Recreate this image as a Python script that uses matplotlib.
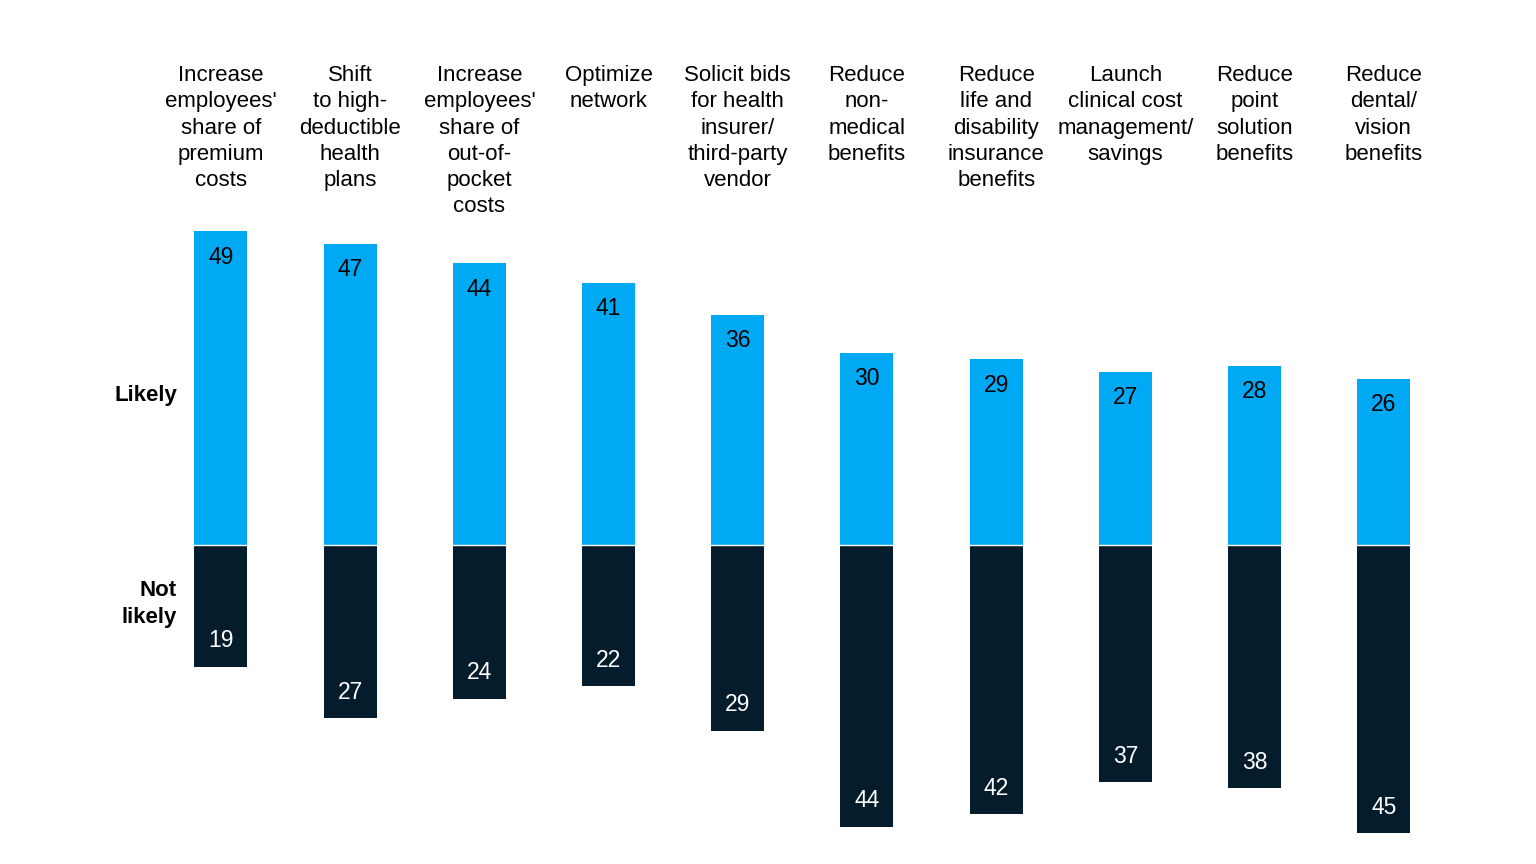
import numpy as np
import matplotlib.pyplot as plt

plt.rcParams['font.family'] = ['Liberation Sans', 'DejaVu Sans']

categories = [
    "Increase\nemployees'\nshare of\npremium\ncosts",
    "Shift\nto high-\ndeductible\nhealth\nplans",
    "Increase\nemployees'\nshare of\nout-of-\npocket\ncosts",
    "Optimize\nnetwork",
    "Solicit bids\nfor health\ninsurer/\nthird-party\nvendor",
    "Reduce\nnon-\nmedical\nbenefits",
    "Reduce\nlife and\ndisability\ninsurance\nbenefits",
    "Launch\nclinical cost\nmanagement/\nsavings",
    "Reduce\npoint\nsolution\nbenefits",
    "Reduce\ndental/\nvision\nbenefits",
]
likely = [49, 47, 44, 41, 36, 30, 29, 27, 28, 26]
not_likely = [19, 27, 24, 22, 29, 44, 42, 37, 38, 45]

blue = '#00A9F4'
navy = '#051C2C'

fig = plt.figure(figsize=(15.36, 8.64), dpi=100)
ax = fig.add_axes([0, 0, 1, 1])

x = np.arange(len(categories))
px = 129.2  # pixels per category
py = 6.4    # pixels per percentage point
ax.set_xlim(-221 / px, (1536 - 221) / px)
ax.set_ylim(-(864 - 545) / py, 545 / py)
ax.axis('off')

w = 53 / px
ax.bar(x, likely, width=w, color=blue, linewidth=0)
ax.bar(x, [-v for v in not_likely], width=w, color=navy, linewidth=0)
ax.axhline(0, color='white', linewidth=1)

for i in range(len(x)):
    ax.annotate(str(likely[i]), (x[i], likely[i]), xytext=(0, -18.5),
                textcoords='offset points', ha='center', va='center',
                fontsize=16.5, color='black')
    ax.annotate(str(not_likely[i]), (x[i], -not_likely[i]), xytext=(0, 18.5),
                textcoords='offset points', ha='center', va='center',
                fontsize=16.5, color='white')
    ax.text(x[i], (545 - 65) / py, categories[i], ha='center', va='top',
            fontsize=16, linespacing=1.33, color='black')

ax.text(-44 / px, (545 - 395) / py, 'Likely', ha='right', va='center',
        fontsize=16, fontweight='bold')
ax.text(-44 / px, (545 - 604) / py, 'Not\nlikely', ha='right', va='center',
        fontsize=16, fontweight='bold', linespacing=1.33)

fig.savefig('out.png', dpi=100, facecolor='white')
